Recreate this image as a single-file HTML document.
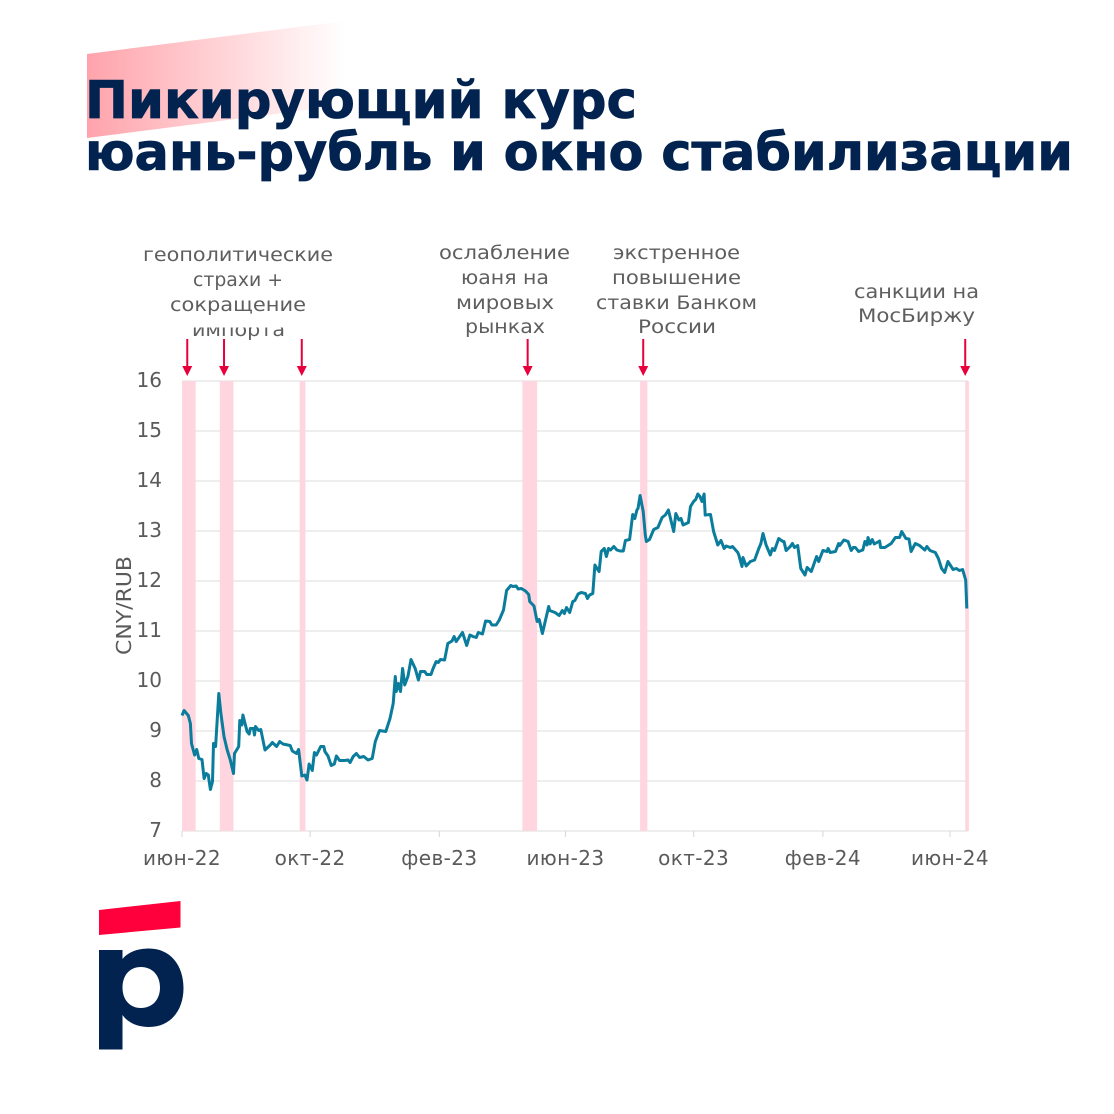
<!DOCTYPE html>
<html lang="ru">
<head>
<meta charset="utf-8">
<title>Пикирующий курс юань-рубль и окно стабилизации</title>
<style>
html,body{margin:0;padding:0;background:#fff;}
svg{display:block;}
.title{font-family:"DejaVu Sans","Liberation Sans",sans-serif;font-weight:700;font-size:52px;fill:#02234f;stroke:#02234f;stroke-width:.8px;}
.note{font-family:"DejaVu Sans","Liberation Sans",sans-serif;font-size:19px;fill:#5e5e5e;}
.tick{font-family:"DejaVu Sans","Liberation Sans",sans-serif;font-size:20px;fill:#5a5a5a;}
</style>
</head>
<body>
<svg id="page" width="1114" height="1114" viewBox="0 0 1114 1114" xmlns="http://www.w3.org/2000/svg">
  <defs>
    <linearGradient id="titleGrad" x1="0" y1="0" x2="1" y2="0">
      <stop offset="0" stop-color="#ffa3ab"/>
      <stop offset="1" stop-color="#ffffff"/>
    </linearGradient>
    <clipPath id="cutNote"><rect x="130" y="327.5" width="220" height="30"/></clipPath>
  </defs>
  <rect width="1114" height="1114" fill="#fff"/>
  <polygon points="87,54 345,21 345,105 87,138" fill="url(#titleGrad)"/>
  <g>
    <text class="title" x="85" y="118" textLength="552" lengthAdjust="spacingAndGlyphs">Пикирующий курс</text>
    <text class="title" x="85" y="170" textLength="988" lengthAdjust="spacingAndGlyphs">юань-рубль и окно стабилизации</text>
  </g>

  <g id="plot"></g>

  <g>
    <text class="note" x="143" y="261" textLength="190" lengthAdjust="spacingAndGlyphs">геополитические</text>
    <text class="note" x="193" y="286" textLength="90" lengthAdjust="spacingAndGlyphs">страхи +</text>
    <text class="note" x="170" y="311" textLength="136" lengthAdjust="spacingAndGlyphs">сокращение</text>
    <text class="note" x="192" y="336" textLength="93" lengthAdjust="spacingAndGlyphs" clip-path="url(#cutNote)">импорта</text>
  </g>
  <g>
    <text class="note" x="439" y="259" textLength="131" lengthAdjust="spacingAndGlyphs">ослабление</text>
    <text class="note" x="461" y="284" textLength="88" lengthAdjust="spacingAndGlyphs">юаня на</text>
    <text class="note" x="456" y="309" textLength="98" lengthAdjust="spacingAndGlyphs">мировых</text>
    <text class="note" x="465" y="333" textLength="80" lengthAdjust="spacingAndGlyphs">рынках</text>
  </g>
  <g>
    <text class="note" x="613" y="259" textLength="127" lengthAdjust="spacingAndGlyphs">экстренное</text>
    <text class="note" x="612" y="284" textLength="129" lengthAdjust="spacingAndGlyphs">повышение</text>
    <text class="note" x="596" y="309" textLength="161" lengthAdjust="spacingAndGlyphs">ставки Банком</text>
    <text class="note" x="638" y="333" textLength="78" lengthAdjust="spacingAndGlyphs">России</text>
  </g>
  <g>
    <text class="note" x="854" y="298" textLength="125" lengthAdjust="spacingAndGlyphs">санкции на</text>
    <text class="note" x="858" y="322" textLength="117" lengthAdjust="spacingAndGlyphs">МосБиржу</text>
  </g>

  <text class="tick" transform="translate(131 655) rotate(-90)" textLength="99" lengthAdjust="spacingAndGlyphs">CNY/RUB</text>

  <g>
    <polygon points="99,910 180.5,901 180.5,927.5 99,935" fill="#ff003c"/>
    <path fill-rule="evenodd" fill="#02234f" d="M99 950H122.5V959C128 952 138 948.5 149 948.5C170 948.5 183.5 965 183.5 988C183.5 1011 170 1027 149 1027C138 1027 128 1023 122.5 1015V1049.5H99ZM141 967C130 967 122.5 975 122.5 987.5C122.5 1000 130 1008 141 1008C152 1008 160 1000 160 987.5C160 975 152 967 141 967Z"/>
  </g>
</svg>
<script>
// Days since 1 June 2022 for each observation
const seriesDays = [0,2,6,8,9,12,14,16,19,21,23,25,27,29,30,32,35,37,40,43,46,49,50,54,55,57,58,62,64,65,68,69,70,73,75,79,84,86,90,93,96,103,105,109,111,114,117,119,121,124,126,128,132,135,136,139,142,145,147,150,155,158,160,163,166,169,173,177,181,184,188,194,198,201,203,204,206,208,210,212,215,218,222,225,227,231,233,237,239,242,244,246,250,253,257,259,261,263,267,271,274,277,280,282,286,289,293,295,299,302,306,309,313,315,318,320,323,327,330,331,335,338,340,343,349,350,355,359,362,364,366,369,372,374,377,380,384,386,388,391,393,395,397,399,402,404,406,408,411,414,417,420,422,426,429,431,433,434,436,439,441,442,445,449,453,457,460,463,468,470,473,475,477,482,484,487,489,491,493,495,497,498,503,506,510,513,516,518,522,524,529,530,533,534,537,541,545,549,551,553,556,560,562,564,568,572,573,575,579,581,583,586,589,593,595,599,604,606,610,614,615,617,622,625,626,630,634,637,639,641,644,648,650,652,653,655,657,659,664,665,669,675,679,683,685,689,692,694,698,702,707,709,712,717,720,723,726,729,734,737,740,743,746,747];
// CNY/RUB rate for each observation
const seriesRate = [9.31,9.41,9.31,9.15,8.75,8.52,8.63,8.45,8.43,8.05,8.15,8.12,7.83,7.99,8.75,8.69,9.75,9.35,8.89,8.62,8.42,8.15,8.55,8.69,9.21,9.12,9.32,8.99,8.94,9.05,9.05,8.92,9.09,9.01,9.03,8.62,8.72,8.77,8.69,8.79,8.74,8.71,8.6,8.55,8.63,8.1,8.12,8.02,8.34,8.21,8.57,8.52,8.69,8.69,8.59,8.5,8.31,8.34,8.5,8.41,8.41,8.42,8.37,8.49,8.55,8.47,8.49,8.42,8.45,8.79,9.01,8.99,9.25,9.55,10.09,9.79,9.95,9.79,10.25,9.92,10.09,10.43,10.25,10.02,10.19,10.19,10.13,10.13,10.25,10.39,10.37,10.43,10.42,10.75,10.8,10.89,10.79,10.85,10.97,10.71,10.92,10.89,10.87,10.97,10.94,11.2,11.19,11.12,11.12,11.22,11.42,11.81,11.91,11.89,11.9,11.84,11.85,11.8,11.73,11.59,11.5,11.19,11.23,10.95,11.49,11.41,11.37,11.31,11.41,11.35,11.47,11.37,11.59,11.61,11.74,11.77,11.75,11.65,11.72,11.75,12.32,12.25,12.19,12.59,12.65,12.49,12.65,12.62,12.69,12.62,12.6,12.6,12.81,12.83,13.33,13.25,13.42,13.45,13.71,13.39,12.92,12.79,12.83,13.03,13.07,13.27,13.32,13.42,12.99,13.35,13.22,13.25,13.12,13.17,13.49,13.59,13.63,13.74,13.69,13.59,13.74,13.32,13.33,12.99,12.72,12.81,12.65,12.7,12.67,12.69,12.57,12.52,12.29,12.47,12.3,12.39,12.42,12.65,12.75,12.95,12.72,12.52,12.65,12.61,12.85,12.79,12.79,12.61,12.69,12.75,12.67,12.71,12.25,12.12,12.27,12.19,12.49,12.39,12.61,12.59,12.65,12.57,12.59,12.75,12.71,12.82,12.79,12.61,12.67,12.67,12.59,12.62,12.79,12.72,12.87,12.74,12.83,12.74,12.8,12.67,12.67,12.75,12.87,12.87,12.99,12.85,12.84,12.59,12.75,12.71,12.62,12.69,12.61,12.57,12.45,12.25,12.17,12.39,12.23,12.25,12.21,12.23,12.02,11.45];
// Y axis tick values
const yTicks = [7,8,9,10,11,12,13,14,15,16];
// X axis tick labels and their dates (days since 1 June 2022)
const xTickLabels = ["июн-22","окт-22","фев-23","июн-23","окт-23","фев-24","июн-24"];
const xTickDays = [0,122,245,365,487,610,731];
// Highlighted event windows (days since 1 June 2022)
const bandStarts = [0,36,112,324,436,745.5];
const bandEnds = [13,49,117.5,338,443,749];
// Event arrow dates (days since 1 June 2022)
const arrowDays = [5,40,114,329,439,745.5];

const SVGNS = "http://www.w3.org/2000/svg";
const plot = document.getElementById("plot");
const xScale = d => 182 + d * 1.0506;
const yScale = v => 831 - (v - 7) * 50;

function make(tag, attrs, parent) {
  const el = document.createElementNS(SVGNS, tag);
  for (const k in attrs) el.setAttribute(k, attrs[k]);
  parent.appendChild(el);
  return el;
}

yTicks.forEach(v => {
  const grid = make("line", {x1: 182, x2: 968, y1: yScale(v), y2: yScale(v), stroke: "#e8e8e8", "stroke-width": 1.6}, plot);
  
  
  const label = make("text", {x: 162, y: yScale(v) + 6, "text-anchor": "end", class: "tick"}, plot);
  
  
  label.textContent = v;
});

bandStarts.forEach((start, i) => {
  const band = make("rect", {x: xScale(start), y: yScale(16), width: xScale(bandEnds[i]) - xScale(start), height: yScale(7) - yScale(16), fill: "#ffd6e0"}, plot);
  
  
});

xTickDays.forEach((d, i) => {
  const tick = make("line", {x1: xScale(d), x2: xScale(d), y1: 831, y2: 837, stroke: "#dcdcdc", "stroke-width": 1.2}, plot);
  
  
  const label = make("text", {x: xScale(d), y: 865, "text-anchor": "middle", "letter-spacing": "0.4", class: "tick"}, plot);
  
  
  label.textContent = xTickLabels[i];
});

const linePoints = seriesDays.map((d, i) => xScale(d).toFixed(1) + "," + yScale(seriesRate[i]).toFixed(1)).join(" ");
const rateLine = make("polyline", {points: linePoints, fill: "none", stroke: "#0a7c9c", "stroke-width": 3, "stroke-linejoin": "round"}, plot);



arrowDays.forEach(d => {
  const x = xScale(d);
  const shaft = make("line", {x1: x, x2: x, y1: 339, y2: 368, stroke: "#e8003d", "stroke-width": 2}, plot);
  
  
  const head = make("polygon", {points: (x - 5) + ",366 " + (x + 5) + ",366 " + x + ",376", fill: "#e8003d"}, plot);
  
  
});
</script>
</body>
</html>
